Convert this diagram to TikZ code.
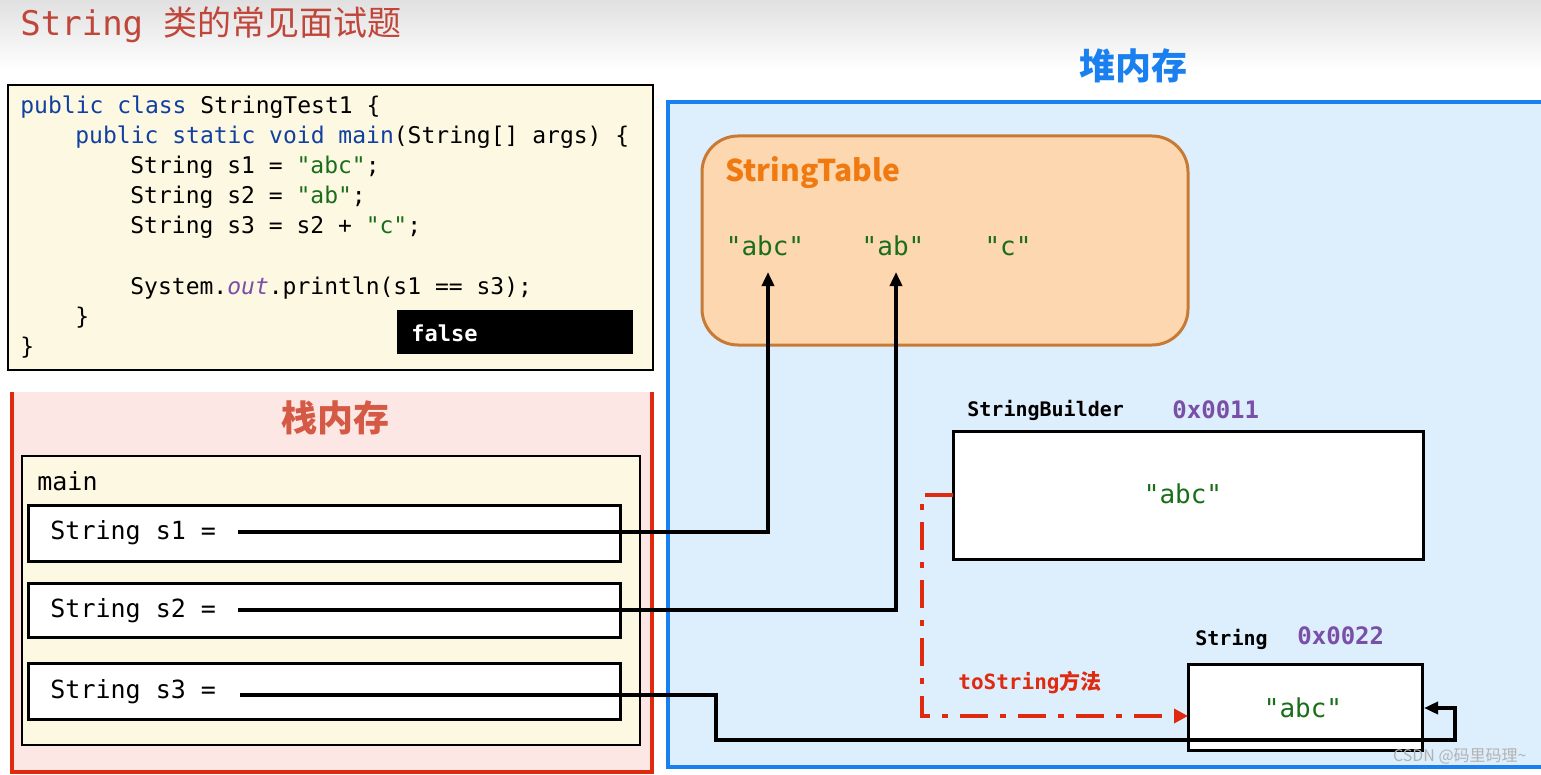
\documentclass[tikz,border=0pt]{standalone}
\usepackage{fontspec}
\setmainfont{Noto Sans CJK SC}
\setmonofont{DejaVu Sans Mono}
\newfontfamily\cjk{Noto Sans CJK SC}
\usetikzlibrary{arrows.meta}
\definecolor{cream}{HTML}{FDF8E1}
\definecolor{pinkbg}{HTML}{FDE7E4}
\definecolor{heapbg}{HTML}{DDEEFC}
\definecolor{heapblue}{HTML}{1A80F0}
\definecolor{stabbg}{HTML}{FDD7B0}
\definecolor{stabbd}{HTML}{C87A35}
\definecolor{stabt}{HTML}{F07A10}
\definecolor{strg}{HTML}{1A6E1A}
\definecolor{kw}{HTML}{1040A0}
\definecolor{purp}{HTML}{7A4FA8}
\definecolor{titlered}{HTML}{C0463A}
\definecolor{stackred}{HTML}{E02A10}
\definecolor{stackt}{HTML}{D55A45}
\begin{document}
\begin{tikzpicture}[x=0.5pt,y=-0.5pt,
  code/.style={font=\ttfamily\fontsize{11.5}{13}\selectfont,anchor=base west,inner sep=0},
  var/.style={font=\ttfamily\fontsize{12.5}{14}\selectfont,anchor=west,inner sep=0},
  sbox/.style={draw=black,line width=1.5pt,fill=white},
  ptr/.style={line width=1.8pt,-{Triangle[length=7pt,width=6pt]}},
  lab/.style={font=\ttfamily\bfseries\fontsize{10}{12}\selectfont,inner sep=0},
  addr/.style={font=\ttfamily\bfseries\fontsize{12}{14}\selectfont,text=purp,inner sep=0},
  str/.style={font=\ttfamily\fontsize{13}{15}\selectfont,text=strg,inner sep=0}]
\useasboundingbox (0,0) rectangle (1541,775);
\fill[white] (0,0) rectangle (1541,775);
\shade[top color=black!12,bottom color=white] (0,0) rectangle (1541,70);
\node[anchor=west,text=titlered,font=\fontsize{17}{19}\selectfont,inner sep=0] (title) at (20,25) {\ttfamily String\ \cjk 类的常见面试题};
% code
\fill[cream,draw=black,line width=0.6pt] (8,85) rectangle (653,370);
\node[code] (c1) at (20,114) {\textcolor{kw}{public class} StringTest1 \{};
\node[code] (c2) at (75,144) {\textcolor{kw}{public static void main}(String[] args) \{};
\node[code] (c3) at (130,174) {String s1 = \textcolor{strg}{"abc"};};
\node[code] (c4) at (130,204) {String s2 = \textcolor{strg}{"ab"};};
\node[code] (c5) at (130,234) {String s3 = s2 + \textcolor{strg}{"c"};};
\node[code] (c6) at (130,294) {System.\textcolor{purp}{\itshape out}.println(s1 == s3);};
\node[code] (c7) at (75,324) {\}};
\node[code] (c8) at (20,354) {\}};
\fill[black] (397,310) rectangle (633,354);
\node[anchor=west,text=white,font=\ttfamily\bfseries\fontsize{11}{13}\selectfont,inner sep=0] (false) at (411,333) {false};
% stack
\fill[pinkbg] (12,392) rectangle (652,772);
\draw[stackred,line width=1.6pt] (12,392) -- (12,772) -- (652,772) -- (652,392);
\node[text=stackt,font=\bfseries\fontsize{18}{20}\selectfont,inner sep=0] (stack) at (335,418) {栈内存};
\fill[cream,draw=black,line width=0.6pt] (22,456) rectangle (640,745);
\node[var] (main) at (37,481) {main};
\draw[sbox] (28,505) rectangle (620,561);
\draw[sbox] (28,583) rectangle (620,637);
\draw[sbox] (28,663) rectangle (620,719);
\node[var] (s1) at (50,533) {String s1 =};
\node[var] (s2) at (50,611) {String s2 =};
\node[var] (s3) at (50,692) {String s3 =};
\coordinate (o1) at (238,532);
\coordinate (o2) at (238,610);
\coordinate (o3) at (240,695);
% heap
\fill[heapbg] (668,102) rectangle (1545,767);
\draw[heapblue,line width=1.8pt] (1545,102) -- (668,102) -- (668,767) -- (1545,767);
\node[text=heapblue,font=\bfseries\fontsize{18}{20}\selectfont,inner sep=0] (heap) at (1133,66) {堆内存};
\draw[fill=stabbg,draw=stabbd,line width=1.5pt,rounded corners=18pt] (702,136) rectangle (1188,345);
\node[anchor=west,text=stabt,font=\bfseries\fontsize{15}{17}\selectfont,inner sep=0] (stab) at (725,173) {StringTable};
\node[str] (pabc) at (765,246) {"abc"};
\node[str] (pab) at (893,246) {"ab"};
\node[str] (pc) at (1008,246) {"c"};
\coordinate (p1) at (768,272);
\coordinate (p2) at (896,272);
% StringBuilder
\node[lab,anchor=west] (sbl) at (967,410) {StringBuilder};
\node[addr,anchor=west] (sba) at (1172,410) {0x0011};
\draw[sbox] (953,431) rectangle (1423,559);
\coordinate (sbleft) at (953,495);
\node[str] (sbabc) at (1183,494) {"abc"};
% String
\node[lab,anchor=west] (strl) at (1195,639) {String};
\node[addr,anchor=west] (stra) at (1297,636) {0x0022};
\draw[sbox] (1188,664) rectangle (1422,750);
\coordinate (strleft) at (1188,716);
\coordinate (strright) at (1424,708);
\node[str] (sabc) at (1303,708) {"abc"};
% pointers
\draw[ptr] (o1) -- (768,532) -- (p1);
\draw[ptr] (o2) -- (896,610) -- (p2);
\draw[ptr] (o3) -- (716,695) -- (716,740) -- (1455,740) -- (1455,708) -- (strright);
\draw[stackred,line width=1.8pt,dash pattern=on 14pt off 6pt on 3pt off 6pt,-{Triangle[length=7pt,width=7pt]}] (sbleft) -- (922,495) -- (922,716) -- (strleft);
\node[anchor=west,text=stackred,font=\ttfamily\bfseries\fontsize{10.5}{12}\selectfont,inner sep=0] (ts) at (958,683) {toString\cjk\bfseries 方法};
\node[anchor=east,text=black!30,font=\fontsize{8}{9}\selectfont,inner sep=0] (wm) at (1527,756) {CSDN @码里码理\textasciitilde};
\end{tikzpicture}
\end{document}
